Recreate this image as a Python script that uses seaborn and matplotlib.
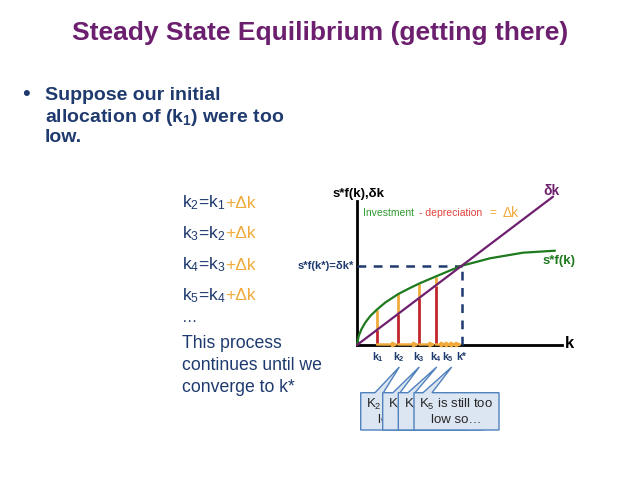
import matplotlib
matplotlib.use("Agg")
import matplotlib.pyplot as plt
from matplotlib.patches import Polygon, Rectangle
import seaborn as sns

# 곡선 데이터
sf_k = [0, 0.17, 0.43, 0.83, 1.33, 2.0, 2.83, 4.13, 5.3, 6.23, 7.87, 9.3, 10.5, 13.3, 16.6, 19.8]
sf_y = [0, 0.9, 1.55, 2.25, 2.9, 3.55, 4.25, 5.1, 5.7, 6.15, 6.85, 7.45, 7.93, 8.67, 9.23, 9.43]
dk_k = [0, 19.6]
dk_y = [0, 14.83]

k_star = 10.5
y_star = 7.93

# k1..k4 에서의 투자(주황)와 감가상각(빨강)
step_k = [2.0, 4.13, 6.23, 7.87]
red_top = [1.52, 3.13, 4.72, 5.95]
orange_top = [3.55, 5.1, 6.15, 6.85]

# x축 위 주황 화살표 끝점
arrow_k = [2.0, 4.13, 6.23, 7.87, 9.0, 9.5, 10.0, 10.5]

tick_labels = [r"k$_\mathbf{1}$", r"k$_\mathbf{2}$", r"k$_\mathbf{3}$", r"k$_\mathbf{4}$",
               r"k$_\mathbf{5}$", "k*"]
tick_pos = [2.13, 4.23, 6.23, 7.9, 9.1, 10.4]

callout_text = ["K$_2$ is still too\nlow so…", "K$_3$ is still too\nlow so…",
                "K$_4$ is still too\nlow so…", "K$_5$ is still too\nlow so…"]
callout_left = [0.37, 2.57, 4.13, 5.7]
callout_apex = [4.23, 6.23, 7.97, 9.47]
callout_base = [(1.8, 2.63), (3.6, 4.3), (5.1, 5.8), (6.6, 7.5)]

eq_left = ["k$_2$=k$_1$", "k$_3$=k$_2$", "k$_4$=k$_3$", "k$_5$=k$_4$"]
eq_y = [203, 234, 265, 296]

navy = "#1F3A6E"
orange = "#F0AB3C"
green = "#1E7A1E"
red = "#C0262B"
purple = "#6E1F6E"

sns.set_theme(style="white")
plt.rcParams["font.family"] = ["Liberation Sans", "DejaVu Sans"]
plt.rcParams["mathtext.fontset"] = "custom"
plt.rcParams["mathtext.rm"] = "Liberation Sans"
plt.rcParams["mathtext.it"] = "Liberation Sans:italic"
plt.rcParams["mathtext.bf"] = "Liberation Sans:bold"

W, H = 638, 478
fig = plt.figure(figsize=(6.38, 4.78), dpi=100)
renderer = fig.canvas.get_renderer()

def fx(px):
    return px / W

def fy(py):
    return 1 - py / H

# 슬라이드 텍스트
fig.text(fx(320), fy(33), "Steady State Equilibrium (getting there)", ha="center", va="center",
         fontsize=19, fontweight="bold", color="#6B1F6E")
fig.text(fx(26), fy(95), "•", ha="center", va="center", fontsize=16, color=navy)
fig.text(fx(45), fy(96), "Suppose our initial", ha="left", va="center", fontsize=14,
         fontweight="bold", color=navy)
fig.text(fx(45), fy(117), r"allocation of (k$_\mathbf{1}$) were too", ha="left", va="center",
         fontsize=14, fontweight="bold", color=navy)
fig.text(fx(45), fy(137), "low.", ha="left", va="center", fontsize=14,
         fontweight="bold", color=navy)

for s, y in zip(eq_left, eq_y):
    t = fig.text(fx(181.5), fy(y), s, ha="left", va="center", fontsize=12.5, color=navy)
    x1 = t.get_window_extent(renderer).x1
    fig.text(x1 / W + 0.001, fy(y), "+Δk", ha="left", va="center", fontsize=12.5, color=orange)
fig.text(fx(181.5), fy(318), "…", ha="left", va="center", fontsize=11, color=navy)
fig.text(fx(181.5), fy(344), "This process", ha="left", va="center", fontsize=12.7, color=navy)
fig.text(fx(181.5), fy(366), "continues until we", ha="left", va="center", fontsize=12.7, color=navy)
fig.text(fx(181.5), fy(387), "converge to k*", ha="left", va="center", fontsize=12.7, color=navy)

# 그래프 영역
ax = fig.add_axes([fx(357), fy(345), 205 / W, 150 / H])
ax.set_xlim(0, 20.5)
ax.set_ylim(0, 15)
ax.set_xticks([])
ax.set_yticks([])
sns.despine(ax=ax)
for side in ["left", "bottom"]:
    ax.spines[side].set_color("black")
    ax.spines[side].set_linewidth(2)
ax.spines["left"].set_bounds(0, 14.4)
ax.patch.set_alpha(0)

sns.lineplot(x=sf_k, y=sf_y, ax=ax, color=green, lw=1.6, clip_on=False, zorder=4)
sns.lineplot(x=dk_k, y=dk_y, ax=ax, color=purple, lw=1.6, clip_on=False, zorder=5)

dash = (0, (3.5, 3))
ax.plot([0, k_star], [y_star, y_star], color=navy, lw=1.8, ls=dash, clip_on=False, zorder=3)
ax.plot([k_star, k_star], [0, y_star], color=navy, lw=1.8, ls=dash, clip_on=False, zorder=3)

for k, r, o in zip(step_k, red_top, orange_top):
    ax.plot([k, k], [0, r], color=red, lw=2, solid_capstyle="butt", zorder=3)
    ax.plot([k, k], [r, o], color=orange, lw=2, solid_capstyle="butt", zorder=3)

for a, b in zip(arrow_k[:-1], arrow_k[1:]):
    ax.annotate("", xy=(b, 0.05), xytext=(a, 0.05), annotation_clip=False, zorder=6,
                arrowprops=dict(arrowstyle="-|>", mutation_scale=6, color=orange, lw=1.8,
                                shrinkA=0, shrinkB=0))

# 축 라벨
ax.text(0.14, 15.1, "s*f(k),δk", ha="center", va="center", fontsize=9.5, fontweight="bold",
        color="black", clip_on=False)
ax.text(19.47, 15.43, "δk", ha="center", va="center", fontsize=10, fontweight="bold",
        color=purple, clip_on=False)
ax.text(18.6, 8.43, "s*f(k)", ha="left", va="center", fontsize=9.5, fontweight="bold",
        color=green, clip_on=False)
ax.text(-0.3, y_star, "s*f(k*)=δk*", ha="right", va="center", fontsize=8, fontweight="bold",
        color=navy, clip_on=False)
ax.text(21.2, 0.2, "k", ha="center", va="center", fontsize=12, fontweight="bold",
        color="black", clip_on=False)

ax.text(0.57, 13.17, "Investment", ha="left", va="center", fontsize=7.5, color="#2E9A2E")
ax.text(6.2, 13.17, "- depreciation", ha="left", va="center", fontsize=7.5, color="#E0403A")
ax.text(13.2, 13.17, "=", ha="left", va="center", fontsize=8.5, color=orange)
ax.text(14.57, 13.17, "Δk", ha="left", va="center", fontsize=10, color=orange)

for lab, p in zip(tick_labels, tick_pos):
    ax.text(p, -1.17, lab, ha="center", va="center", fontsize=7.6, fontweight="bold",
            color=navy, clip_on=False)

# 말풍선
top, bottom, w = -4.77, -8.5, 8.5
lefts_next = callout_left[1:] + [callout_left[-1] + w]
for i, (txt, L, apex, base) in enumerate(zip(callout_text, callout_left, callout_apex, callout_base)):
    verts = [(L, bottom), (L, top), (base[0], top), (apex, -2.2), (base[1], top),
             (L + w, top), (L + w, bottom)]
    poly = Polygon(verts, closed=True, facecolor="#DCE6F2", edgecolor="#4F81BD", lw=1,
                   clip_on=False, zorder=10 + 2 * i)
    ax.add_patch(poly)
    t = ax.text(L + w / 2, (top + bottom) / 2, txt, ha="center", va="center", fontsize=9.5,
                color="#262626", linespacing=1.15, zorder=11 + 2 * i)
    clip = Rectangle((L, bottom), lefts_next[i] - L, top - bottom, transform=ax.transData)
    t.set_clip_path(clip)

fig.savefig("out.png", dpi=100)
